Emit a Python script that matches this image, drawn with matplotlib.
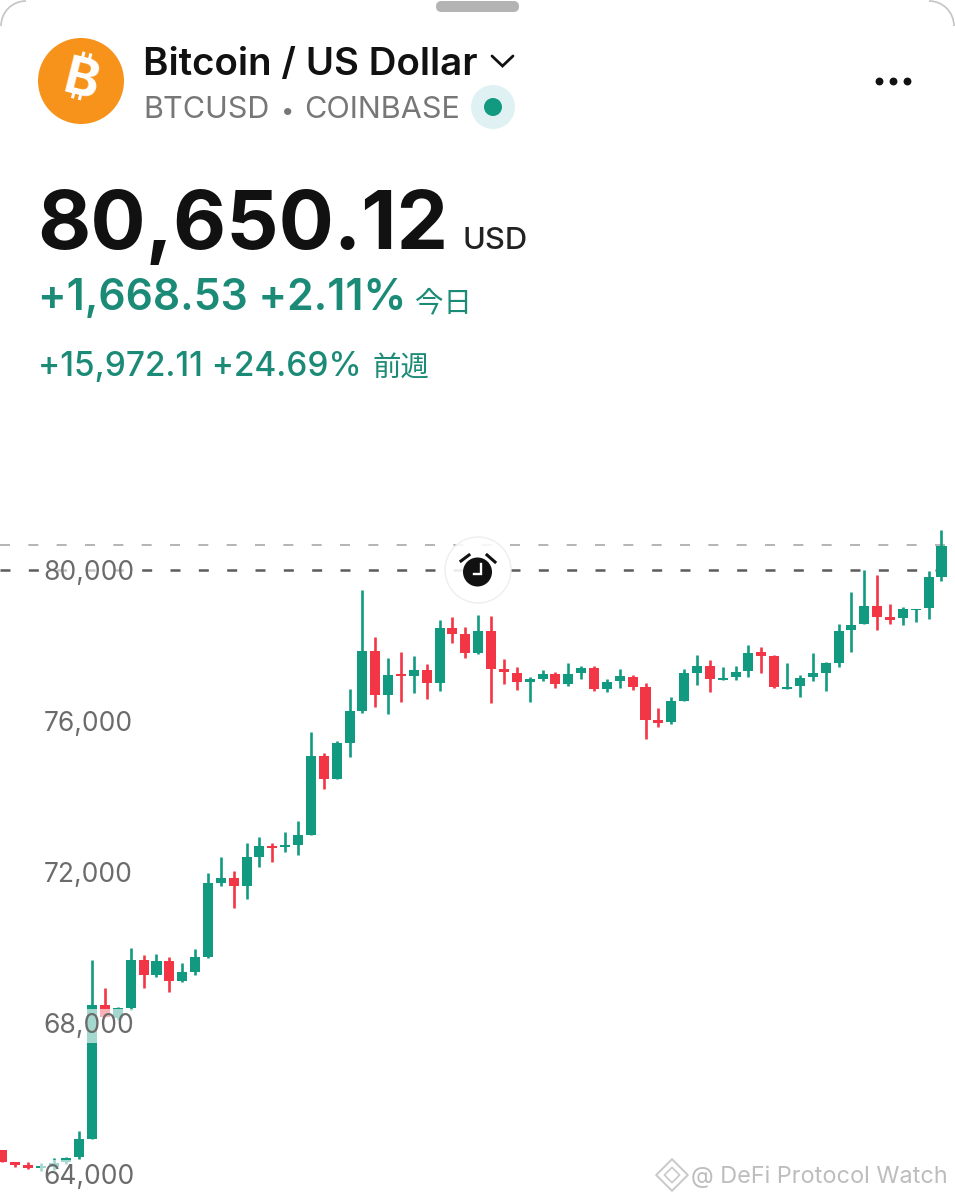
import matplotlib
matplotlib.use("Agg")
import matplotlib.pyplot as plt
from matplotlib.patches import Circle, FancyBboxPatch, Arc

plt.rcParams['lines.scale_dashes'] = False

GREEN = '#129A80'
RED = '#F23645'
TEXT_GREEN = '#1B8A76'

opens = [64640, 64320, 64240, 64170, 64190, 64320, 64450, 64930, 68480, 68130,
         68400, 69670, 69270, 69640, 69110, 69350, 69750, 71710, 71840, 71630,
         72400, 72690, 72660, 72720, 72980, 75070, 74460, 75420, 76270, 77850,
         76690, 77250, 77190, 77350, 77010, 78460, 78300, 77800, 78380, 77380,
         77270, 77030, 77110, 77250, 76980, 77270, 77400, 76850, 77060, 77170,
         76900, 76030, 75970, 76530, 77270, 77460, 77090, 77170, 77320, 77830,
         77720, 76850, 76930, 77170, 77270, 77540, 78410, 78570, 79050, 78750,
         78730, 78940, 78990, 79810]
closes = [64320, 64240, 64160, 64210, 64290, 64420, 64930, 68480, 68160, 68400,
          69670, 69270, 69640, 69110, 69350, 69750, 71710, 71840, 71630, 72400,
          72690, 72640, 72720, 72980, 75070, 74460, 75420, 76270, 77850, 76690,
          77220, 77190, 77350, 77010, 78460, 78300, 77800, 78380, 77380, 77300,
          77030, 77110, 77250, 76980, 77250, 77400, 76850, 77030, 77190, 76900,
          76030, 75950, 76530, 77270, 77460, 77110, 77140, 77300, 77800, 77720,
          76900, 76900, 77140, 77270, 77540, 78380, 78540, 79050, 78750, 78680,
          78970, 78970, 79810, 80640]
highs = [64640, 64320, 64320, 64290, 64420, 64450, 65140, 69670, 68930, 68420,
         69990, 69800, 69830, 69750, 69590, 69960, 71970, 72400, 72030, 72770,
         72930, 72770, 73060, 73350, 75710, 75150, 75470, 76850, 79470, 78220,
         77670, 77830, 77720, 77510, 78680, 78750, 78490, 78810, 78780, 77640,
         77430, 77170, 77350, 77300, 77540, 77460, 77460, 77110, 77380, 77220,
         77010, 76340, 76640, 77380, 77750, 77620, 77430, 77460, 78010, 77960,
         77750, 77540, 77220, 77800, 77560, 78570, 79420, 80000, 79870, 79100,
         79020, 78970, 79970, 81060]
lows = [64310, 64190, 64130, 64080, 64110, 64260, 64400, 64930, 68160, 68080,
        68340, 68930, 69220, 68820, 69090, 69270, 69720, 71630, 71050, 71280,
        72130, 72260, 72530, 72450, 72980, 74200, 74460, 75050, 76210, 76370,
        76190, 76500, 76740, 76580, 76790, 78070, 77670, 77770, 76480, 76980,
        76820, 76500, 77060, 76870, 76930, 77110, 76790, 76770, 76870, 76820,
        75520, 75840, 75920, 76530, 76950, 76770, 77090, 77090, 77170, 77270,
        76870, 76850, 76640, 77060, 76790, 77430, 77830, 78570, 78410, 78570,
        78540, 78620, 78700, 79710]
tick_values = [64000, 68000, 72000, 76000, 80000]
tick_labels = ['64,000', '68,000', '72,000', '76,000', '80,000']
last_price = 80650.12
alert_price = 80000

W, H = 955, 1200
fig = plt.figure(figsize=(W / 100, H / 100), dpi=100, facecolor='white')

# ---- chart axes
ax = fig.add_axes([0, 0, 1, 1])
ax.set_xlim(-0.16, 74.05)
ax.set_ylim(63311, 95100)
for s in ax.spines.values():
    s.set_visible(False)
ax.set_xticks([])
ax.set_axisbelow(False)

positions = list(range(len(opens)))
colors = [GREEN if c >= o else RED for o, c in zip(opens, closes)]
ax.vlines(positions, lows, highs, colors=colors, linewidth=1.9, zorder=1.1)
ax.bar(positions, [abs(c - o) for o, c in zip(opens, closes)],
       bottom=[min(o, c) for o, c in zip(opens, closes)],
       width=0.78, color=colors, linewidth=0, zorder=1.2)

ax.axhline(last_price, color='#a8a8a8', lw=1.2, ls=(0, (7.2, 13.2)), zorder=0.9)
ax.axhline(alert_price, color='#5c5c5c', lw=1.8, ls=(0, (7.2, 13.2)), zorder=0.9)

ax.set_yticks(tick_values, tick_labels)
ax.tick_params(axis='y', length=0, pad=-31.5, labelsize=19, labelcolor='#6b6b6b')
for lab in ax.get_yticklabels():
    lab.set_ha('left')
    lab.set_family('Inter')
    lab.set_bbox(dict(facecolor='white', alpha=0.62, edgecolor='none', pad=3))

# ---- overlay in pixel coordinates for the app chrome
ov = fig.add_axes([0, 0, 1, 1], facecolor='none')
ov.set_xlim(0, W)
ov.set_ylim(H, 0)
ov.axis('off')


def label(x, y, s, size, color='#111111', weight='normal', family='Inter', **kw):
    ov.text(x, y, s, fontsize=size, color=color, weight=weight, family=family,
            ha=kw.pop('ha', 'left'), va='baseline', **kw)


# top sheet handle and rounded corners
ov.add_patch(FancyBboxPatch((436, 1), 83, 11, boxstyle='round,pad=0,rounding_size=5.5',
                            facecolor='#b4b4b4', edgecolor='none'))
ov.add_patch(Arc((26, 26), 50, 50, theta1=180, theta2=270, color='#c4c4c4', lw=1.2))
ov.add_patch(Arc((929, 26), 50, 50, theta1=270, theta2=360, color='#c4c4c4', lw=1.2))

# logo
ov.add_patch(Circle((81, 81), 43, facecolor='#F7931A', edgecolor='none'))
ov.text(81, 82, '\u20bf', fontsize=38, color='white', weight='bold',
        family=['Inter', 'Noto Sans', 'Roboto', 'Open Sans', 'Lato', 'Noto Sans CJK SC'],
        rotation=-14, ha='center', va='center')

# header
label(143, 75, 'Bitcoin / US Dollar', 27.7, weight='semibold')
ov.plot([492, 502.5, 513], [56, 66, 56], color='#111111', lw=2.0, solid_capstyle='round',
        solid_joinstyle='miter')
label(143, 118, 'BTCUSD', 22, color='#777777')
label(281, 118, '\u2022', 17, color='#777777')
label(304, 118, 'COINBASE', 22, color='#777777')
ov.add_patch(Circle((493, 107), 22, facecolor='#DFF1F3', edgecolor='none'))
ov.add_patch(Circle((493, 107), 9, facecolor=GREEN, edgecolor='none'))
ov.scatter([879, 893, 907], [81, 81, 81], s=32, color='#111111', linewidths=0)

# price block
label(37, 249, '80,650.12', 59, weight='bold')
label(462, 249, 'USD', 22.2, color='#222222', weight='medium')
label(38, 310, '+1,668.53 +2.11%', 30.7, color=TEXT_GREEN, weight='semibold')
label(415, 311, '今日', 20.5, color=TEXT_GREEN, family=['Noto Sans CJK JP', 'DejaVu Sans'])
label(38, 376, '+15,972.11 +24.69%', 24, color=TEXT_GREEN, weight='medium')
label(372, 376, '前週', 20.5, color=TEXT_GREEN, family=['Noto Sans CJK JP', 'DejaVu Sans'])

# alarm button
ov.add_patch(Circle((478, 570), 33, facecolor='white', alpha=0.88, edgecolor='none'))
ov.add_patch(Circle((478, 570), 33, facecolor='none', edgecolor='#eeeeee', lw=1.0))
ov.add_patch(Circle((477.5, 572), 14.5, facecolor='#111111', edgecolor='none'))
ov.plot([481, 481, 474], [564, 574, 574], color='white', lw=1.7, solid_joinstyle='miter')
ov.plot([461, 469], [561, 555], color='#111111', lw=2.2)
ov.plot([487, 495], [555, 562], color='#111111', lw=2.2)

# watermark
ov.scatter([672], [1175], s=260, marker='D', facecolor='none', edgecolor='#c9c9c9', linewidths=1.4)
ov.scatter([672], [1175], s=60, marker='D', facecolor='none', edgecolor='#c9c9c9', linewidths=1.2)
label(691, 1183, '@ DeFi Protocol Watch', 16.9, color='#bdbdbd')

fig.savefig('out.png', dpi=100, facecolor='white')
